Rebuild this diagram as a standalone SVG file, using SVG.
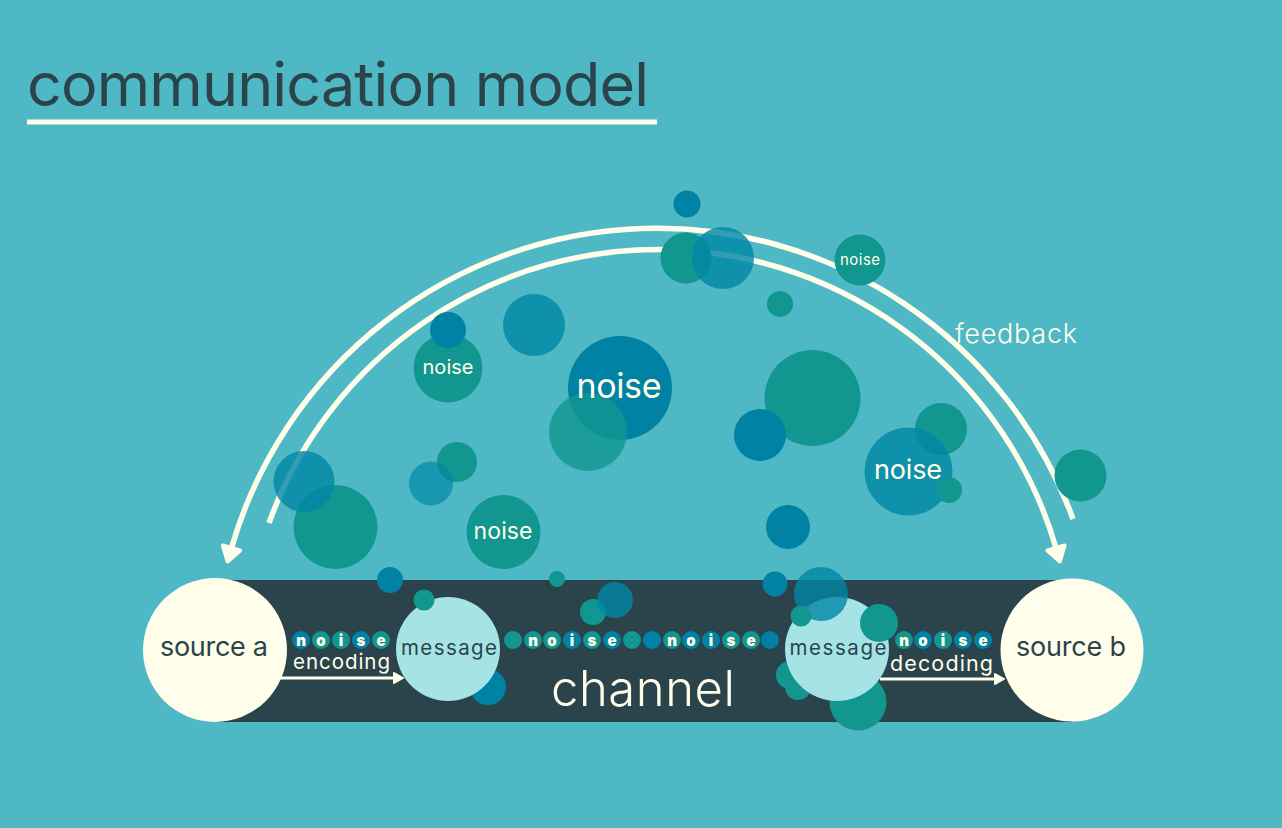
<svg xmlns="http://www.w3.org/2000/svg" width="1282" height="828" viewBox="0 0 1282 828">
<style>
text{font-family:"Inter","Lato","Liberation Sans",sans-serif;font-variant-ligatures:none;font-weight:400}
.t{fill:#129690}.b{fill:#0082a4}.tb{fill:#0086a5;opacity:.8}.tt{fill:#129690;opacity:.8}
.lb{fill:#0086a5;opacity:.66}
.n{fill:#fffeea;text-anchor:middle}
.thin{font-weight:300}
.d{fill:#2b434b;text-anchor:middle}
.c{fill:#fffeea;text-anchor:middle;font-weight:900;font-size:15px}
.arc{fill:none;stroke:#fffeea;stroke-width:5.5}
.ln{fill:none;stroke:#fffeea;stroke-width:3}
</style>
<defs>
<marker id="big" markerUnits="userSpaceOnUse" markerWidth="34" markerHeight="34" refX="6" refY="17" orient="auto"><path d="M6 8L20 17L6 26Z" fill="#fffeea" stroke="#fffeea" stroke-width="4" stroke-linejoin="round"/></marker>
<marker id="small" markerUnits="userSpaceOnUse" markerWidth="20" markerHeight="20" refX="3" refY="10" orient="auto"><path d="M3 5L12 10L3 15Z" fill="#fffeea" stroke="#fffeea" stroke-width="2" stroke-linejoin="round"/></marker>
</defs>
<rect width="1282" height="828" fill="#4eb9c4"/>
<g id="title"><text x="27" y="106" font-size="61" fill="#2b434b" textLength="622">communication model</text><rect x="27" y="119.500" width="630" height="5" fill="#fffeea"/></g>
<g id="channel"><rect x="215" y="580" width="857" height="142" fill="#2b434b"/><text class="n thin" x="643" y="706" font-size="49" textLength="184">channel</text></g>
<g id="connectors">
<path class="arc" marker-end="url(#big)" d="M1073 519A443 443 0 0 0 231.500 548"/>
<path class="arc" marker-end="url(#big)" d="M269 523A414 414 0 0 1 1056 548"/>
<path class="ln" marker-end="url(#small)" d="M280 678H394"/>
<path class="ln" marker-end="url(#small)" d="M880 679H995"/>
</g>
<g id="noise-behind">
<circle class="b" cx="488" cy="687" r="18"/>
<circle class="t" cx="858" cy="702" r="28.500"/>
<circle class="t" cx="790" cy="675" r="14"/>
<circle class="t" cx="798" cy="687" r="13"/>
</g>
<g id="source-a"><circle cx="215" cy="650" r="72" fill="#fffeea"/><text class="d" x="214" y="656" font-size="27" textLength="108">source a</text></g>
<g id="source-b"><circle cx="1072" cy="650" r="71.500" fill="#fffeea"/><text class="d" x="1071" y="656" font-size="27" textLength="110">source b</text></g>
<g id="message-a"><circle cx="448" cy="649" r="52" fill="#a5e3e5"/></g>
<g id="message-b"><circle cx="837" cy="649" r="52" fill="#a5e3e5"/></g>
<g id="noise-1"><circle class="b" cx="687" cy="204" r="13.500"/></g>
<g id="noise-2"><circle class="t" cx="686" cy="258" r="25.500"/></g>
<g id="noise-3"><circle class="tb" cx="723" cy="258" r="31"/></g>
<g id="noise-4"><circle class="t" cx="860" cy="260" r="25.500"/><text class="n" x="860" y="265" font-size="15" textLength="40">noise</text></g>
<g id="noise-5"><circle class="t" cx="780" cy="304" r="13"/></g>
<g id="noise-6"><circle class="tb" cx="534" cy="325" r="31"/></g>
<g id="noise-7"><circle class="t" cx="448" cy="368" r="34.500"/><text class="n" x="448" y="374" font-size="20" textLength="51">noise</text></g>
<g id="noise-8"><circle class="b" cx="448" cy="330" r="18"/></g>
<g id="noise-9"><circle class="b" cx="620" cy="388" r="52"/></g>
<g id="noise-10"><circle class="tt" cx="588" cy="432" r="39"/><text class="n" x="619" y="398" font-size="34" textLength="85">noise</text></g>
<g id="noise-11"><circle class="t" cx="812.500" cy="398" r="48"/></g>
<g id="noise-12"><circle class="b" cx="760" cy="435" r="26"/></g>
<g id="noise-13"><circle class="t" cx="941" cy="429" r="26"/></g>
<g id="noise-14"><circle class="tb" cx="908.500" cy="471.500" r="44"/></g>
<g id="noise-15"><circle class="t" cx="949" cy="490" r="13"/><text class="n" x="908" y="479" font-size="27" textLength="68">noise</text></g>
<g id="noise-16"><circle class="t" cx="1080.500" cy="475.500" r="26"/></g>
<g id="noise-17"><circle class="t" cx="457" cy="462" r="20"/></g>
<g id="noise-18"><circle class="lb" cx="431" cy="483.500" r="22"/></g>
<g id="noise-19"><circle class="t" cx="335.500" cy="527" r="42"/></g>
<g id="noise-20"><circle class="tb" cx="304" cy="481.500" r="30.500"/></g>
<g id="noise-21"><circle class="t" cx="503.500" cy="532" r="37"/><text class="n" x="503" y="539" font-size="23" textLength="59">noise</text></g>
<g id="noise-22"><circle class="b" cx="788" cy="527" r="22"/></g>
<g id="noise-23"><circle class="t" cx="557" cy="579" r="8"/></g>
<g id="noise-24"><circle class="b" cx="390" cy="580" r="13"/></g>
<g id="noise-25"><circle class="t" cx="424" cy="600" r="10.500"/></g>
<g id="noise-26"><circle class="b" cx="775" cy="584" r="12.500"/></g>
<g id="noise-27"><circle class="tb" cx="821" cy="594" r="27"/></g>
<g id="noise-28"><circle class="t" cx="801" cy="616" r="10.500"/></g>
<g id="noise-29"><circle class="t" cx="879" cy="623" r="19"/></g>
<g id="noise-30"><circle class="t" cx="593" cy="612" r="13"/></g>
<g id="noise-31"><circle class="tb" cx="615" cy="600" r="18"/></g>
<g id="noise-row-encoding">
<circle class="b" cx="301" cy="640" r="9"/><circle class="t" cx="321" cy="640" r="9"/><circle class="t" cx="341" cy="640" r="9"/><circle class="b" cx="361" cy="640" r="9"/><circle class="t" cx="381" cy="640" r="9"/>
<text class="c" x="301 321 341 361 381" y="645.500">noise</text>
</g>
<g id="noise-row-channel">
<circle class="t" cx="513" cy="640" r="9"/><circle class="t" cx="533" cy="640" r="9"/><circle class="t" cx="552" cy="640" r="9"/><circle class="b" cx="572" cy="640" r="9"/><circle class="t" cx="592" cy="640" r="9"/><circle class="b" cx="612" cy="640" r="9"/><circle class="t" cx="632" cy="640" r="9"/><circle class="b" cx="652" cy="640" r="9"/><circle class="t" cx="672" cy="640" r="9"/><circle class="b" cx="691" cy="640" r="9"/><circle class="b" cx="711" cy="640" r="9"/><circle class="t" cx="731" cy="640" r="9"/><circle class="t" cx="751" cy="640" r="9"/><circle class="b" cx="770" cy="640" r="9"/>
<text class="c" x="533 552 572 592 612" y="645.500">noise</text>
<text class="c" x="672 691 711 731 751" y="645.500">noise</text>
</g>
<g id="noise-row-decoding">
<circle class="t" cx="904" cy="640" r="9"/><circle class="b" cx="923" cy="640" r="9"/><circle class="t" cx="943" cy="640" r="9"/><circle class="b" cx="963" cy="640" r="9"/><circle class="b" cx="983" cy="640" r="9"/>
<text class="c" x="904 923 943 963 983" y="645.500">noise</text>
</g>
<g id="labels">
<text class="d" x="449" y="655" font-size="20.500" textLength="96">message</text>
<text class="d" x="838" y="655" font-size="20.500" textLength="97">message</text>
<text class="n" x="341.500" y="669" font-size="20.500" textLength="97">encoding</text>
<text class="n" x="941.500" y="671" font-size="21.500" textLength="103">decoding</text>
<text class="n thin" x="1016" y="343" font-size="27" textLength="122">feedback</text>
</g>
</svg>
